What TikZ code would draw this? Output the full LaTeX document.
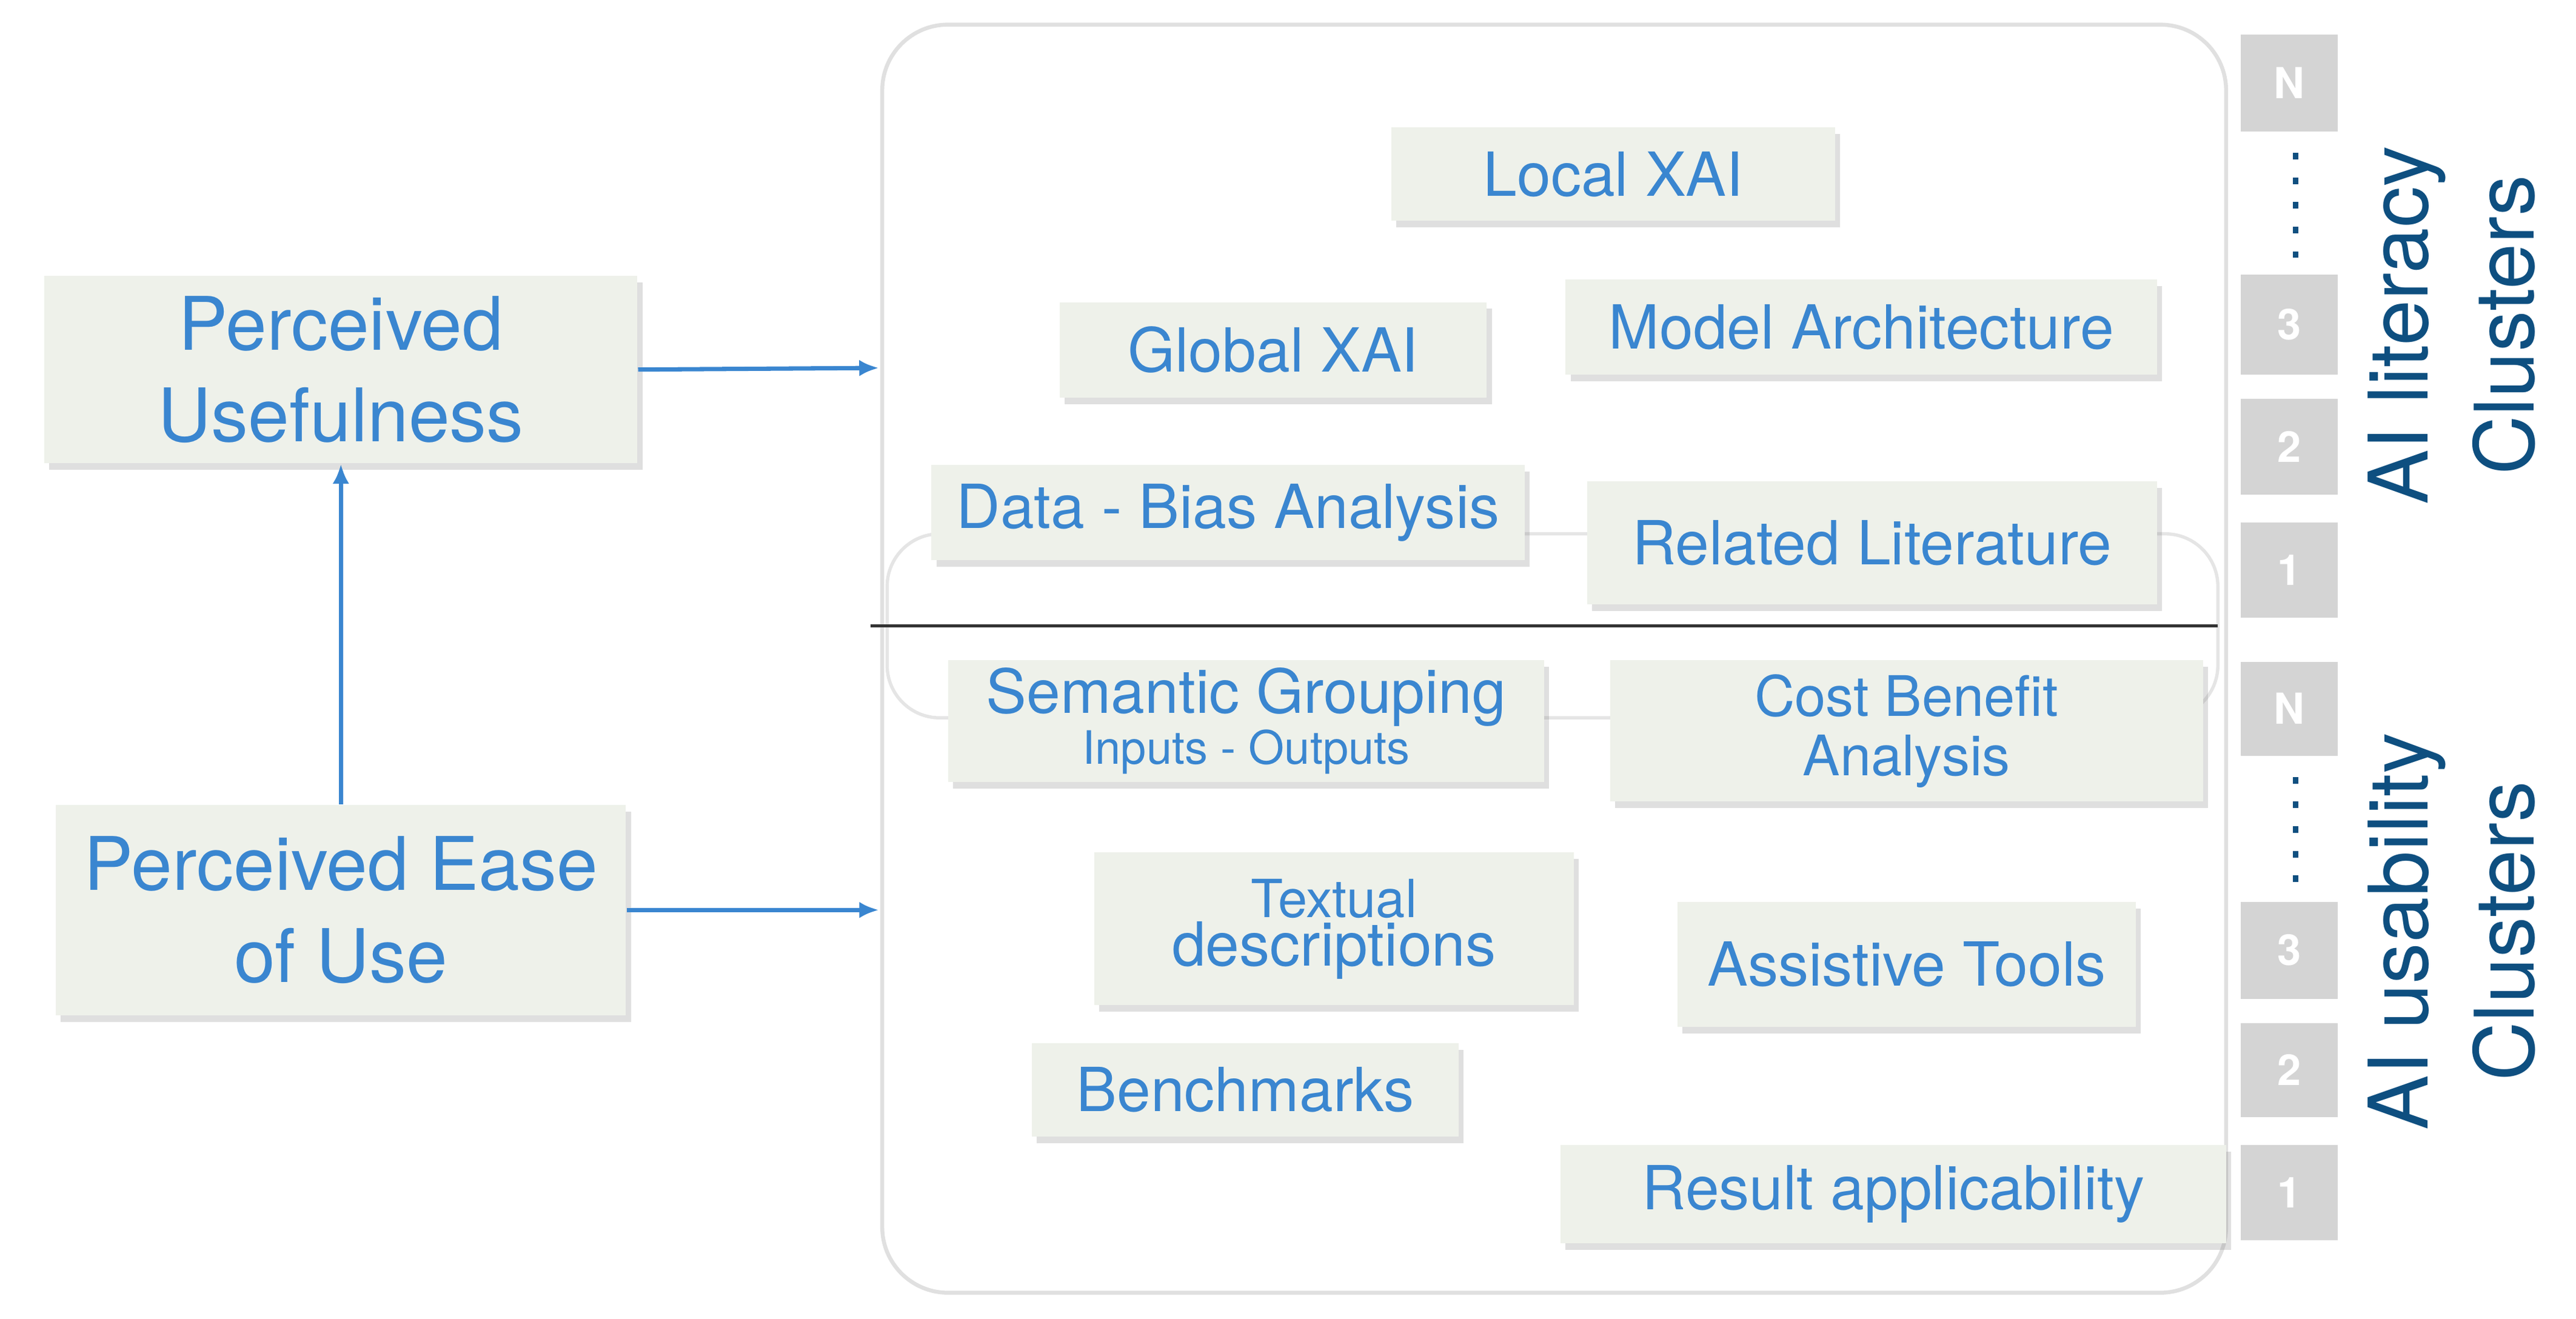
\documentclass[tikz,border=0pt]{standalone}
\usepackage{fontspec}
\setmainfont{TeX Gyre Heros}
\usetikzlibrary{shadows,arrows.meta}
\definecolor{bfill}{HTML}{EEF1EA}
\definecolor{tblue}{HTML}{3A86D0}
\definecolor{dblue}{HTML}{0E4F80}
\definecolor{sq}{HTML}{D4D4D4}
\begin{document}
\begin{tikzpicture}[x=0.5pt,y=-0.5pt,
 card/.style={fill=bfill,draw=none,text=tblue,align=center,inner sep=0pt,
   drop shadow={shadow xshift=1.5pt,shadow yshift=-2pt,opacity=0.25}},
 num/.style={fill=sq,inner sep=0pt},
 nt/.style={text=white,font=\bfseries\fontsize{13}{13}\selectfont},
 arr/.style={tblue,line width=1.3pt,-{Latex[length=6pt,width=5pt]}},
 side/.style={text=dblue,rotate=90,font=\fontsize{25}{25}\selectfont}]
\useasboundingbox (0,0) rectangle (1568,803);
\draw[black!12,line width=1.2pt,rounded corners=20pt] (537,15) rectangle (1355,787);
\draw[black!10,line width=1pt,rounded corners=16pt] (540,325) rectangle (1350,437);
\node[card,minimum width=180.5pt,minimum height=57pt,font=\fontsize{22.5}{28}\selectfont] (pu) at (207.5,225) {Perceived\\Usefulness};
\node[card,minimum width=173.5pt,minimum height=64pt,font=\fontsize{22.5}{28}\selectfont] (peu) at (207.5,554) {Perceived Ease\\of Use};
\coordinate (t1) at (535,224);
\coordinate (t2) at (535,554);
\draw[arr] (peu.north) -- (pu.south);
\draw[arr] (pu.east) -- (t1);
\draw[arr] (peu.east) -- (t2);
\draw[black!80,line width=0.8pt] (530,381) -- (1350,381);
\tikzset{s16/.style={font=\fontsize{18.5}{18}\selectfont}}
\node[card,s16,minimum width=135pt,minimum height=28.5pt] (lx) at (982,106) {Local XAI};
\node[card,s16,minimum width=130pt,minimum height=29pt] (gx) at (775,213) {Global XAI};
\node[card,s16,minimum width=180pt,minimum height=29pt] (ma) at (1133,199) {Model Architecture};
\node[card,s16,minimum width=180.5pt,minimum height=29pt] (db) at (747.5,312) {Data - Bias Analysis};
\node[card,s16,minimum width=173.5pt,minimum height=37.5pt] (rl) at (1139.5,330.5) {Related Literature};
\node[card,minimum width=181.5pt,minimum height=37pt] (sg) at (758.5,439) {{\fontsize{18.5}{16}\selectfont Semantic Grouping}\\{\fontsize{14}{12}\selectfont Inputs - Outputs}};
\node[card,font=\fontsize{17}{18}\selectfont,minimum width=180.5pt,minimum height=43pt] (cb) at (1160.5,445) {Cost Benefit\\Analysis};
\node[card,minimum width=146pt,minimum height=46.5pt] (td) at (812,565.5) {{\fontsize{16}{17}\selectfont Textual}\\{\fontsize{18.5}{18}\selectfont descriptions}};
\node[card,s16,minimum width=139.5pt,minimum height=38pt] (at) at (1160.5,587) {Assistive Tools};
\node[card,s16,minimum width=130pt,minimum height=28.5pt] (bm) at (758,663.5) {Benchmarks};
\node[card,s16,minimum width=202.5pt,minimum height=30pt] (ra) at (1152.5,727) {Result applicability};
\node[num,minimum width=29.5pt,minimum height=29.5pt,nt] (qa) at (1393.5,50.5) {N};
\node[num,minimum width=29.5pt,minimum height=30.5pt,nt] (qb) at (1393.5,197.5) {3};
\node[num,minimum width=29.5pt,minimum height=29pt,nt] (qc) at (1393.5,272) {2};
\node[num,minimum width=29.5pt,minimum height=29pt,nt] (qd) at (1393.5,347) {1};
\node[num,minimum width=29.5pt,minimum height=28.5pt,nt] (qe) at (1393.5,431.5) {N};
\node[num,minimum width=29.5pt,minimum height=29.5pt,nt] (qf) at (1393.5,578.5) {3};
\node[num,minimum width=29.5pt,minimum height=28.5pt,nt] (qg) at (1393.5,651.5) {2};
\node[num,minimum width=29.5pt,minimum height=29pt,nt] (qh) at (1393.5,726) {1};
\foreach \y in {93,108,123,138,153,473,488,503,518,533}{\fill[dblue] (1395.5,\y) rectangle (1399,\y+4);}
\node[side] (l1) at (1465,198) {AI literacy};
\node[side] (l2) at (1524,198) {Clusters};
\node[side] (l3) at (1465,567) {AI usability};
\node[side] (l4) at (1524,567) {Clusters};
\end{tikzpicture}
\end{document}
